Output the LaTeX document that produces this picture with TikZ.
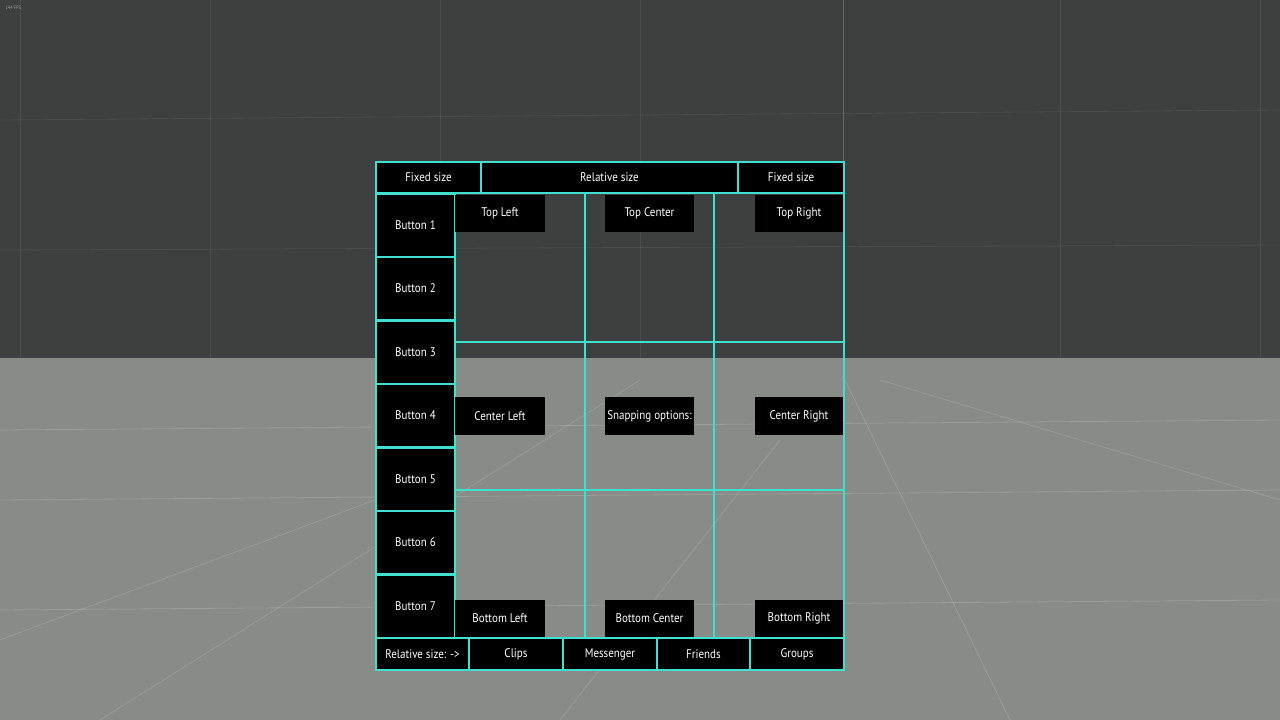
\documentclass[tikz,border=0pt]{standalone}
\usepackage{fontspec}
\setmainfont[FakeStretch=0.88]{PT Sans}
\begin{document}
\begin{tikzpicture}[x=1pt,y=-1pt,
  font=\fontsize{12.5}{14}\selectfont,
  cell/.style={draw=ucyan,fill=black,line width=2.5pt,text=white,inner sep=0pt},
  lbl/.style={fill=black,text=white,inner sep=0pt},
  gline/.style={draw=ucyan,line width=2.5pt}]
\definecolor{ucyan}{RGB}{64,224,208}
\definecolor{sky}{RGB}{60,64,63}
\definecolor{floor}{RGB}{135,140,134}
\useasboundingbox (0,0) rectangle (1280,720);
\fill[sky] (0,0) rectangle (1280,358);
\fill[floor] (0,358) rectangle (1280,720);
% faint grid lines
\begin{scope}[draw=white,opacity=0.07,line width=0.8pt]
\foreach \x in {20,210,440,640,1060,1260} \draw (\x,0) -- (\x,358);
\draw (0,120) -- (1280,110);
\draw (0,250) -- (1280,245);
\end{scope}
\begin{scope}[draw=white,opacity=0.15,line width=0.8pt]
\draw (0,430) -- (1280,420);
\draw (0,500) -- (1280,490);
\draw (0,610) -- (1280,600);
\draw (100,720) -- (640,380);
\draw (1010,720) -- (845,380);
\draw (1280,500) -- (880,380);
\draw (0,640) -- (455,470);
\draw (560,720) -- (780,440);
\end{scope}
\draw[white,opacity=0.2,line width=1pt] (843,0) -- (843,162);
\node[font=\fontsize{5}{6}\selectfont,text=white,opacity=0.5,anchor=north west] (fps) at (2,2) {144 FPS};
% header
\node[cell,minimum width=105pt,minimum height=31pt] (h1) at (428.5,177.5) {Fixed size};
\node[cell,minimum width=257pt,minimum height=31pt] (h2) at (609.5,177.5) {Relative size};
\node[cell,minimum width=106pt,minimum height=31pt] (h3) at (791,177.5) {Fixed size};
% buttons
\foreach \i/\y in {1/225,2/288.5,3/352,4/415.5,5/479,6/542.5,7/606}
  \node[cell,minimum width=79pt,minimum height=63.5pt] (b\i) at (415.5,\y) {Button \i};
% grid
\draw[gline] (455,193) rectangle (844,638);
\draw[gline] (585,193) -- (585,638);
\draw[gline] (714,193) -- (714,638);
\draw[gline] (455,342) -- (844,342);
\draw[gline] (455,490) -- (844,490);
% labels
\node[lbl,minimum width=90pt,minimum height=37pt] (tl) at (500,213.5) {Top Left};
\node[lbl,minimum width=89pt,minimum height=37pt] (tc) at (649.5,213.5) {Top Center};
\node[lbl,minimum width=88pt,minimum height=37pt] (tr) at (799,213.5) {Top Right};
\node[lbl,minimum width=90pt,minimum height=38pt] (cl) at (500,416) {Center Left};
\node[lbl,minimum width=89pt,minimum height=38pt] (cc) at (649.5,416) {Snapping options:};
\node[lbl,minimum width=88pt,minimum height=38pt] (cr) at (799,416) {Center Right};
\node[lbl,minimum width=90pt,minimum height=37pt] (bl) at (500,618.5) {Bottom Left};
\node[lbl,minimum width=89pt,minimum height=37pt] (bc) at (649.5,618.5) {Bottom Center};
\node[lbl,minimum width=88pt,minimum height=37pt] (br) at (799,618.5) {Bottom Right};
% footer
\node[cell,minimum width=93pt,minimum height=32pt] (f1) at (422.5,654) {Relative size: ->};
\node[cell,minimum width=94pt,minimum height=32pt] (f2) at (516,654) {Clips};
\node[cell,minimum width=94pt,minimum height=32pt] (f3) at (610,654) {Messenger};
\node[cell,minimum width=93pt,minimum height=32pt] (f4) at (703.5,654) {Friends};
\node[cell,minimum width=94pt,minimum height=32pt] (f5) at (797,654) {Groups};
\end{tikzpicture}
\end{document}
